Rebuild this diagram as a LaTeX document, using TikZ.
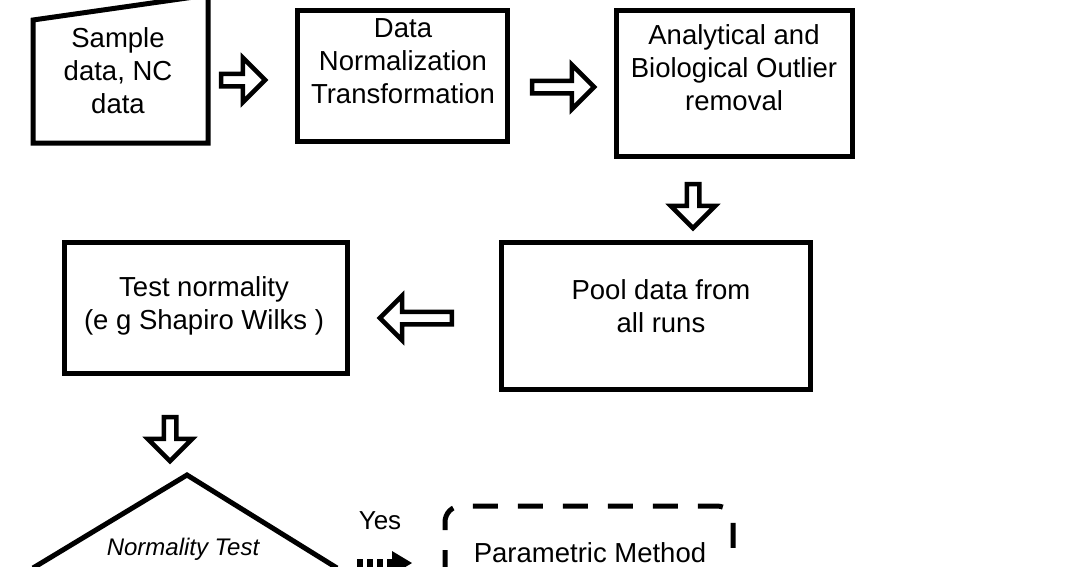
\documentclass[tikz,border=0pt]{standalone}
\usepackage{fontspec}
\setmainfont{Liberation Sans}
\usetikzlibrary{shapes.arrows}
\begin{document}
\begin{tikzpicture}[x=1pt,y=-1pt,
  box/.style={draw,line width=5pt},
  txt/.style={align=center,font=\fontsize{27.5}{33}\selectfont},
  harr/.style={single arrow,draw,line width=4.5pt,inner sep=4pt,
     text height=0pt,text depth=0pt,text width=0pt,single arrow head extend=16pt,minimum height=#1},
]
\useasboundingbox (0,0) rectangle (1078,566);
\draw[box,line join=miter] (33,143) -- (33,20) -- (208,-5) -- (208,143) -- cycle;
\node[txt] (in) at (118,71) {Sample\\data, NC\\data};
\draw[box] (297,10) rectangle (507,141);
\node[txt] (norm) at (403,61) {Data\\Normalization\\Transformation};
\draw[box] (616,10) rectangle (852,156);
\node[txt] (out) at (734,68) {Analytical and\\Biological Outlier\\removal};
\draw[box] (501,242) rectangle (810,389);
\node[txt] (pool) at (661,306) {Pool data from\\all runs};
\draw[box] (64,242) rectangle (347,373);
\node[txt] (test) at (204,306) {Test normality\\(e g Shapiro Wilks )};
\draw[line width=5pt] (33,568) -- (187,475) -- (337,568);
\node[font=\fontsize{24}{28}\selectfont\itshape] (nt) at (183,549) {Normality Test};
\node[font=\fontsize{26}{28}\selectfont] (yes) at (380,521) {Yes};
\draw[line width=5pt,dash pattern=on 25pt off 20pt,rounded corners=16pt]
  (445,575) -- (445,506) -- (733,506) -- (733,575);
\node[txt] (par) at (590,553) {Parametric Method};
\node[harr=44pt] (a1) at (240,80) {};
\node[harr=62pt] (a2) at (560,87) {};
\node[harr=44pt,shape border rotate=270] (a3) at (693,203) {};
\node[harr=72pt,shape border rotate=180] (a4) at (419,318) {};
\node[harr=44pt,shape border rotate=270] (a5) at (170,436) {};
\draw[line width=8pt,dash pattern=on 6pt off 4pt] (357,563) -- (392,563);
\fill (392,551) -- (412,563) -- (392,575) -- cycle;
\end{tikzpicture}
\end{document}
